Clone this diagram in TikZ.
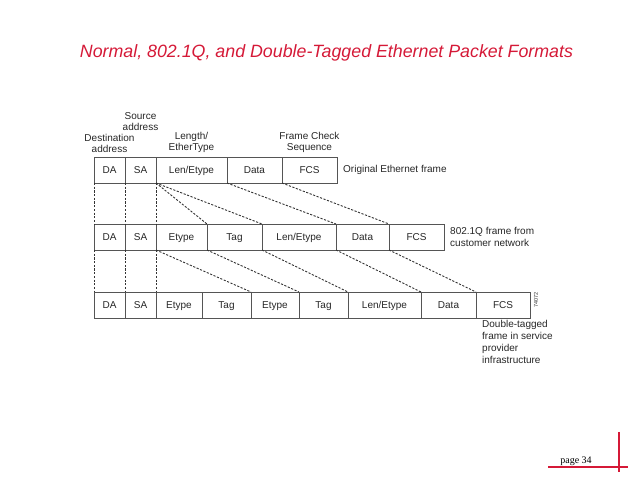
\documentclass[tikz,border=0pt]{standalone}
\usepackage{fontspec}
\setmainfont{Liberation Sans}
\newfontfamily\pagefont{Liberation Serif}
\usetikzlibrary{positioning}
\definecolor{slidered}{RGB}{213,25,55}
\definecolor{boxgray}{RGB}{85,85,85}
\tikzset{
  field/.style={draw=boxgray, line width=0.9pt, inner sep=0pt, outer sep=0pt,
    minimum height=26pt, text height=8pt, text depth=0.6pt,
    font=\fontsize{10}{12}\selectfont, text=black!85},
  tag/.style={inner sep=1pt, align=center, font=\fontsize{10}{11.5}\selectfont, text=black!85},
  note/.style={inner sep=1pt, align=left, font=\fontsize{10}{12}\selectfont, text=black!85},
  moved/.style={draw=black!80, line width=0.9pt, dash pattern=on 2.2pt off 1.5pt},
}

\begin{document}
\begin{tikzpicture}[x=1pt,y=-1pt]
	%% page frame
	\useasboundingbox (0,0) rectangle (638,478);

	\node[font=\fontsize{17.8}{20}\selectfont\itshape, text=slidered] (title) at (326.5,53)
	  {Normal, 802.1Q, and Double-Tagged Ethernet Packet Formats};

	% original frame
	\node[field, minimum width=31pt, anchor=north west] (r1da) at (94,157) {DA};
	\node[field, minimum width=31pt, right=0pt of r1da] (r1sa) {SA};
	\node[field, minimum width=71pt, right=0pt of r1sa] (r1len) {Len/Etype};
	\node[field, minimum width=55pt, right=0pt of r1len] (r1data) {Data};
	\node[field, minimum width=55pt, right=0pt of r1data] (r1fcs) {FCS};

	% 802.1Q frame
	\node[field, minimum width=31pt, anchor=north west] (r2da) at (94,224) {DA};
	\node[field, minimum width=31pt, right=0pt of r2da] (r2sa) {SA};
	\node[field, minimum width=51pt, right=0pt of r2sa] (r2et) {Etype};
	\node[field, minimum width=55pt, right=0pt of r2et] (r2tag) {Tag};
	\node[field, minimum width=74pt, right=0pt of r2tag] (r2len) {Len/Etype};
	\node[field, minimum width=53pt, right=0pt of r2len] (r2data) {Data};
	\node[field, minimum width=55pt, right=0pt of r2data] (r2fcs) {FCS};

	% double-tagged frame
	\node[field, minimum width=31pt, anchor=north west] (r3da) at (94,292) {DA};
	\node[field, minimum width=31pt, right=0pt of r3da] (r3sa) {SA};
	\node[field, minimum width=46pt, right=0pt of r3sa] (r3et) {Etype};
	\node[field, minimum width=49pt, right=0pt of r3et] (r3tag) {Tag};
	\node[field, minimum width=48pt, right=0pt of r3tag] (r3eti) {Etype};
	\node[field, minimum width=49pt, right=0pt of r3eti] (r3tagi) {Tag};
	\node[field, minimum width=73pt, right=0pt of r3tagi] (r3len) {Len/Etype};
	\node[field, minimum width=55pt, right=0pt of r3len] (r3data) {Data};
	\node[field, minimum width=54pt, right=0pt of r3data] (r3fcs) {FCS};

	% field names
	\node[tag, above=3pt of r1da] (dstname) {Destination\\address};
	\node[tag, above=25pt of r1sa] (srcname) {Source\\address};
	\node[tag, above=3pt of r1len] (lenname) {Length/\\EtherType};
	\node[tag, above=3pt of r1fcs] (fcsname) {Frame Check\\Sequence};

	% frame names
	\node[note, right=5pt of r1fcs] (r1name) {Original Ethernet frame};
	\node[note, right=5pt of r2fcs] (r2name) {802.1Q frame from\\customer network};
	\node[note, below right=1pt and 5pt of r3fcs.south west] (r3name)
	  {Double-tagged\\frame in service\\provider\\infrastructure};
	\node[font=\fontsize{5.5}{6}\selectfont, text=black!80, rotate=90, inner sep=0pt] (fignum)
	  at ([xshift=6pt,yshift=-8pt]r3fcs.north east) {74072};

	% where the fields go
	\draw[moved] (r1da.south west) -- (r2da.north west);
	\draw[moved] (r1sa.south west) -- (r2sa.north west);
	\draw[moved] (r1len.south west) -- (r2et.north west);
	\draw[moved] (r1len.south west) -- (r2tag.north west);
	\draw[moved] (r1len.south west) -- (r2len.north west);
	\draw[moved] (r1data.south west) -- (r2data.north west);
	\draw[moved] (r1fcs.south west) -- (r2fcs.north west);

	\draw[moved] (r2da.south west) -- (r3da.north west);
	\draw[moved] (r2sa.south west) -- (r3sa.north west);
	\draw[moved] (r2et.south west) -- (r3et.north west);
	\draw[moved] (r2et.south west) -- (r3eti.north west);
	\draw[moved] (r2tag.south west) -- (r3tagi.north west);
	\draw[moved] (r2len.south west) -- (r3len.north west);
	\draw[moved] (r2data.south west) -- (r3data.north west);
	\draw[moved] (r2fcs.south west) -- (r3fcs.north west);

	% page mark
	\node[font=\pagefont\fontsize{10}{12}\selectfont, anchor=base] (pagenum) at (576,464) {page 34};
	\draw[slidered, line width=1.6pt] (548,467) -- (628,467);
	\draw[slidered, line width=1.6pt] (619,432) -- (619,472);
\end{tikzpicture}
\end{document}
